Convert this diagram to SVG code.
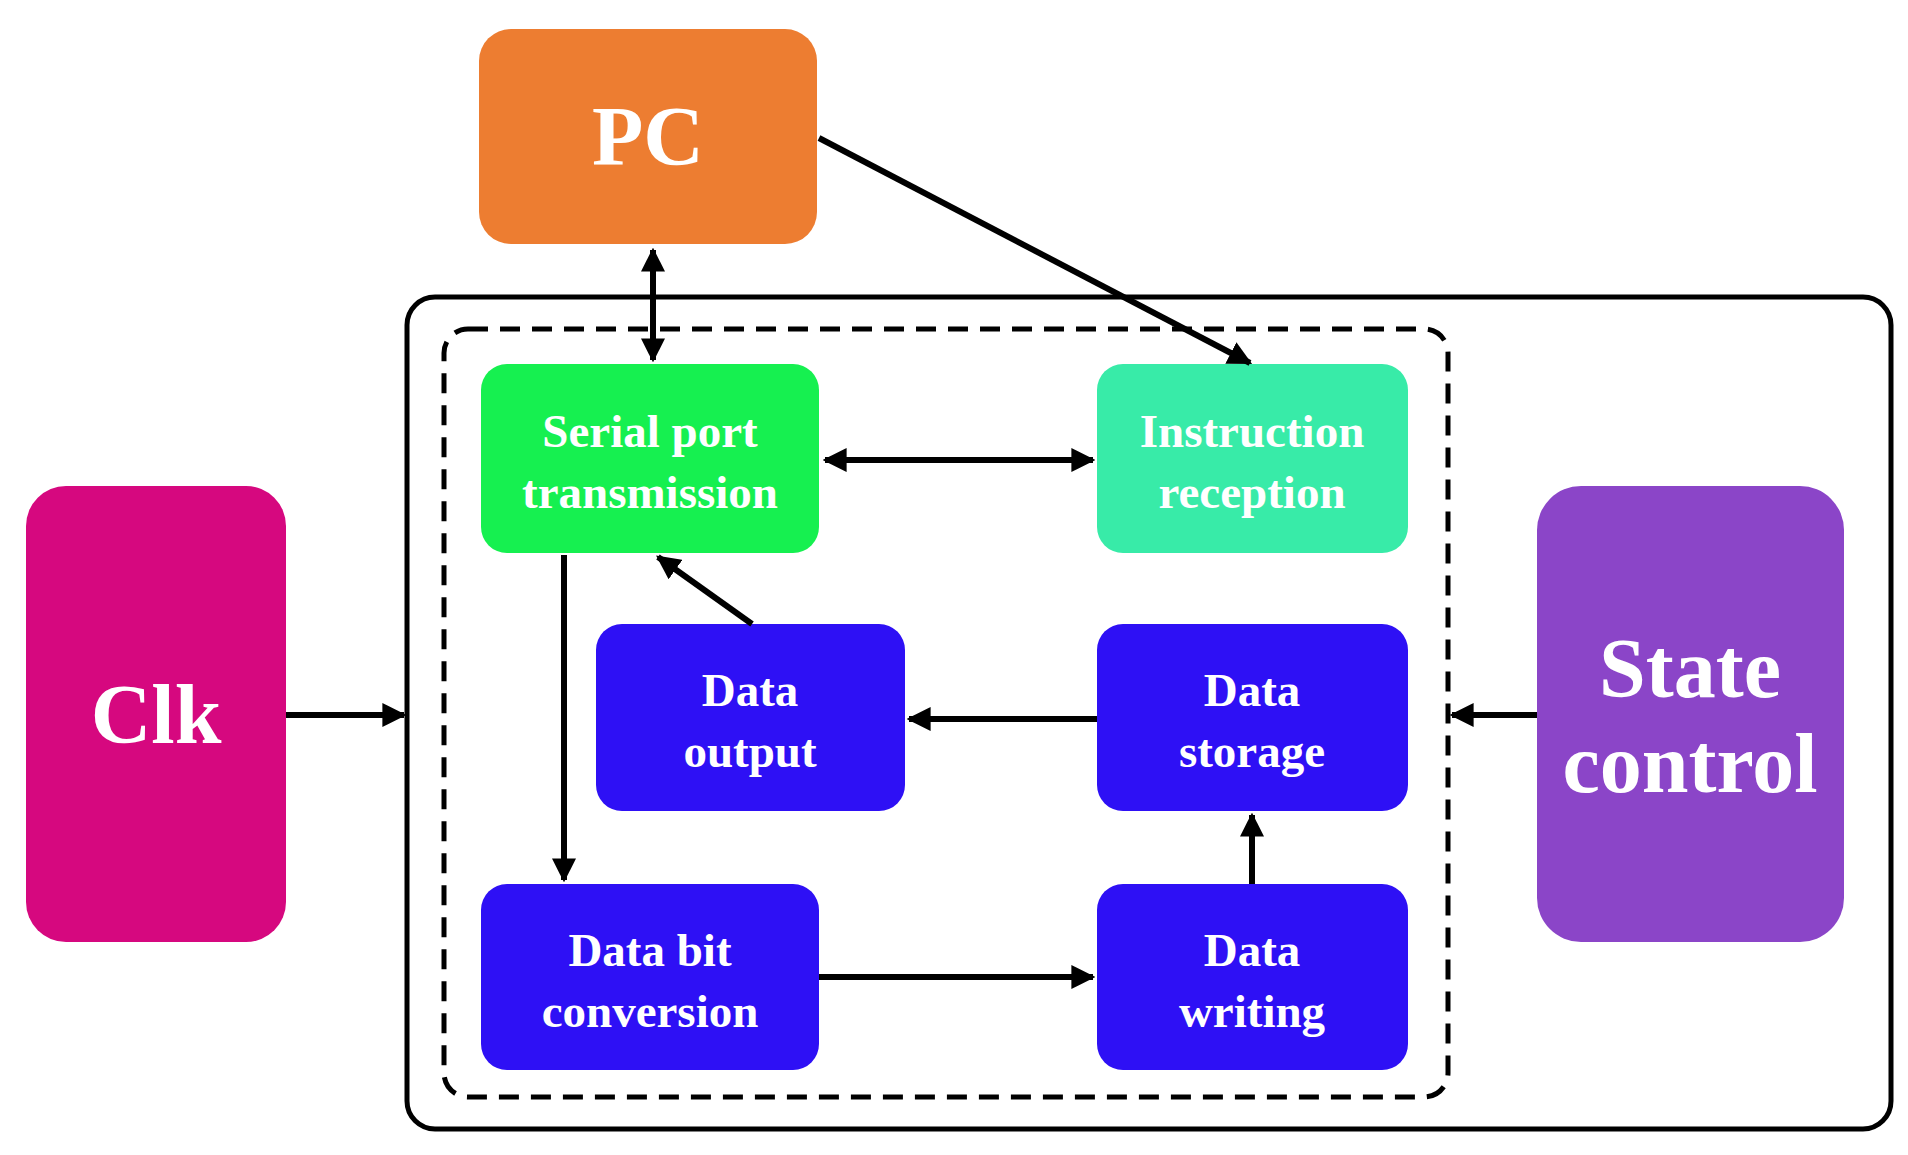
<svg xmlns="http://www.w3.org/2000/svg" width="1908" height="1155" viewBox="0 0 1908 1155">
<style>
text{font-family:"Liberation Serif","Times New Roman",serif;font-weight:bold;fill:#fff;text-anchor:middle}
.m{font-size:47px}.b{font-size:84px}
.c{stroke:#000;stroke-width:6;fill:none}
</style>
<defs>
<marker id="a" viewBox="0 0 10 10" refX="9" refY="5" markerWidth="4" markerHeight="4" orient="auto-start-reverse" markerUnits="strokeWidth"><path d="M0,0L10,5L0,10z" fill="#000"/></marker>
</defs>
<rect width="1908" height="1155" fill="#fff"/>
<rect x="407" y="297" width="1484" height="832" rx="28" fill="none" stroke="#000" stroke-width="5"/>
<rect x="444" y="329" width="1004" height="768" rx="24" fill="none" stroke="#000" stroke-width="5" stroke-dasharray="20,12"/>
<g id="pc"><rect x="479" y="29" width="338" height="215" rx="32" fill="#ED7D31"/><text x="648" y="165" style="font-size:84px">PC</text></g>
<g id="serial"><rect x="481" y="364" width="338" height="189" rx="26" fill="#16F050"/><text class="m" x="650" y="447">Serial port</text><text class="m" x="650" y="508">transmission</text></g>
<g id="instr"><rect x="1097" y="364" width="311" height="189" rx="26" fill="#38EBA8"/><text class="m" x="1252" y="447">Instruction</text><text class="m" x="1252" y="508">reception</text></g>
<g id="out"><rect x="596" y="624" width="309" height="187" rx="26" fill="#2E10F5"/><text class="m" x="750" y="706">Data</text><text class="m" x="750" y="767">output</text></g>
<g id="stor"><rect x="1097" y="624" width="311" height="187" rx="26" fill="#2E10F5"/><text class="m" x="1252" y="706">Data</text><text class="m" x="1252" y="767">storage</text></g>
<g id="bit"><rect x="481" y="884" width="338" height="186" rx="26" fill="#2E10F5"/><text class="m" x="650" y="966">Data bit</text><text class="m" x="650" y="1027">conversion</text></g>
<g id="wr"><rect x="1097" y="884" width="311" height="186" rx="26" fill="#2E10F5"/><text class="m" x="1252" y="966">Data</text><text class="m" x="1252" y="1027">writing</text></g>
<g id="clk"><rect x="26" y="486" width="260" height="456" rx="40" fill="#D6087F"/><text class="b" x="156" y="743">Clk</text></g>
<g id="state"><rect x="1537" y="486" width="307" height="456" rx="44" fill="#8B45C8"/><text class="b" x="1690" y="697">State</text><text class="b" x="1690" y="792">control</text></g>
<g id="connectors">
<line class="c" x1="653" y1="250" x2="653" y2="360" marker-start="url(#a)" marker-end="url(#a)"/>
<line class="c" x1="819" y1="138" x2="1250" y2="363" marker-end="url(#a)"/>
<line class="c" x1="825" y1="460" x2="1093" y2="460" marker-start="url(#a)" marker-end="url(#a)"/>
<line class="c" x1="564" y1="555" x2="564" y2="880" marker-end="url(#a)"/>
<line class="c" x1="752" y1="624" x2="658" y2="557" marker-end="url(#a)"/>
<line class="c" x1="1097" y1="719" x2="909" y2="719" marker-end="url(#a)"/>
<line class="c" x1="819" y1="977" x2="1093" y2="977" marker-end="url(#a)"/>
<line class="c" x1="1252" y1="884" x2="1252" y2="815" marker-end="url(#a)"/>
<line class="c" x1="286" y1="715" x2="404" y2="715" marker-end="url(#a)"/>
<line class="c" x1="1537" y1="715" x2="1452" y2="715" marker-end="url(#a)"/>
</g>
</svg>
